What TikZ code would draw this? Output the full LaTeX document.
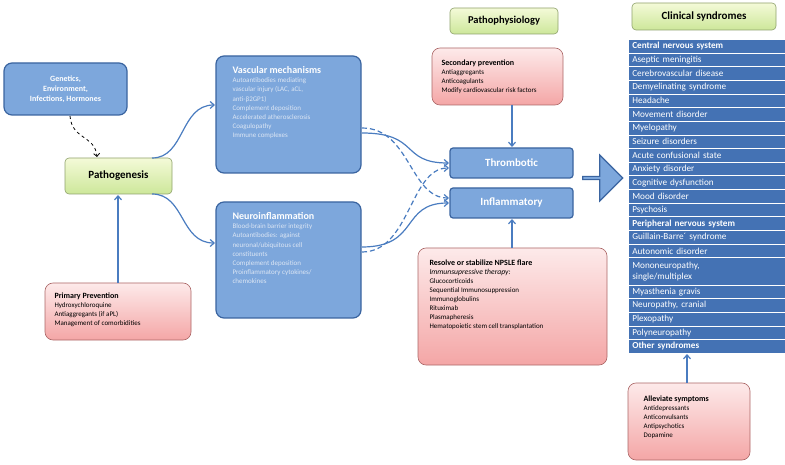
\documentclass[tikz,border=0pt]{standalone}
\usepackage{fontspec}
\setmainfont{Carlito}
\usetikzlibrary{shapes.arrows,arrows.meta,positioning}
\definecolor{bfill}{HTML}{7DA7DC}
\definecolor{bdraw}{HTML}{3A64A0}
\definecolor{rowc}{HTML}{4472B4}
\definecolor{lighttxt}{HTML}{DCE6F4}
\definecolor{gfillA}{HTML}{F4FAD8}
\definecolor{gfillB}{HTML}{CDE79A}
\definecolor{pfillA}{HTML}{FDEAEA}
\definecolor{pfillB}{HTML}{F4A6A6}
\definecolor{linec}{HTML}{4A7CC0}
\tikzset{
 bluebox/.style={draw=bdraw,line width=1.2pt,fill=bfill,rounded corners=8pt},
 greenbox/.style={draw=gfillB!70!black,line width=0.6pt,top color=gfillA,bottom color=gfillB,rounded corners=4pt},
 pinkbox/.style={draw=red!45!black!60,line width=0.6pt,top color=pfillA,bottom color=pfillB,rounded corners=8pt},
 conn/.style={draw=linec,line width=1.2pt,-{Straight Barb[length=4pt,width=7pt]}},
 dconn/.style={conn,dashed,dash pattern=on 5pt off 3pt},
 row/.style={fill=rowc,draw=white,line width=0.6pt,minimum width=157pt,text width=149pt,anchor=north west,inner sep=0pt,align=left,text=white,font=\fontsize{9.2}{10.8}\selectfont},
 ptxt/.style={anchor=north west,align=left,font=\fontsize{7}{9.2}\selectfont}
}
\begin{document}
\begin{tikzpicture}[x=1pt,y=-1pt]
\useasboundingbox (0,0) rectangle (785,465);
% boxes
\draw[bluebox] (4,63) rectangle (127,115);
\node[text=white,align=center,font=\fontsize{8}{10}\selectfont\bfseries] (gen) at (65.5,89) {Genetics,\\Environment,\\Infections, Hormones};
\coordinate (genb) at (70,116);
\draw[greenbox] (65,158) rectangle (172,194);
\node[font=\fontsize{11}{13}\selectfont\bfseries] (pg) at (118.5,176) {Pathogenesis};
\coordinate (pgtr) at (152,158); \coordinate (pgbr) at (152,194); \coordinate (pgt) at (97,157); \coordinate (pgb) at (118,195);
\draw[pinkbox] (45,283) rectangle (191,340);
\node[ptxt] (pp) at (51,289) {\textbf{\fontsize{8}{9}\selectfont Primary Prevention}\\Hydroxychloroquine\\Antiaggregants (if aPL)\\Management of comorbidities};
\coordinate (ppt) at (118,283);
% vascular
\draw[bluebox] (216,56) rectangle (361,173);
\node[ptxt,text=lighttxt] (vas) at (229,63) {\textcolor{white}{\fontsize{10}{12}\selectfont\bfseries Vascular mechanisms}\\Autoantibodies mediating\\vascular injury (LAC, aCL,\\anti-β2GP1)\\Complement deposition\\Accelerated atherosclerosis\\Coagulopathy\\Immune complexes};
\coordinate (vasl) at (215,105); \coordinate (vasr) at (362,133); \coordinate (vasr2) at (362,128);
\draw[bluebox] (216,202) rectangle (361,318);
\node[ptxt,text=lighttxt] (neu) at (229,209) {\textcolor{white}{\fontsize{10}{12}\selectfont\bfseries Neuroinflammation}\\Blood-brain barrier integrity\\Autoantibodies: against\\neuronal/ubiquitous cell\\constituents\\Complement deposition\\Proinflammatory cytokines/\\chemokines};
\coordinate (neul) at (215,243); \coordinate (neur) at (362,247); \coordinate (neur2) at (362,252);
% middle
\draw[greenbox] (450,8) rectangle (558,34);
\node[font=\fontsize{10.5}{12}\selectfont\bfseries] (pat) at (504,21) {Pathophysiology};
\draw[pinkbox] (432,48) rectangle (563,105);
\node[ptxt] (sec) at (438,56) {\textbf{\fontsize{8}{9}\selectfont Secondary prevention}\\Antiaggregants\\Anticoagulants\\Modify cardiovascular risk factors};
\coordinate (secb) at (512,105);
\draw[bluebox,rounded corners=3pt] (450,148) rectangle (573,178);
\node[text=white,font=\fontsize{11}{13}\selectfont\bfseries] (thr) at (511.5,163) {Thrombotic};
\draw[bluebox,rounded corners=3pt] (450,188) rectangle (573,218);
\node[text=white,font=\fontsize{11}{13}\selectfont\bfseries] (inf) at (511.5,203) {Inflammatory};
\coordinate (thrl) at (449,163); \coordinate (thrl2) at (449,168); \coordinate (thrt) at (512,147);
\coordinate (infl) at (449,203); \coordinate (infl2) at (449,198); \coordinate (infb) at (512,219);
\draw[pinkbox] (418,248) rectangle (607,365);
\node[ptxt,font=\fontsize{7}{9}\selectfont] (res) at (426,256) {\textbf{\fontsize{8}{9}\selectfont Resolve or stabilize NPSLE flare}\\\textit{\fontsize{7.6}{9}\selectfont Immunsupressive therapy:}\\Glucocorticoids\\Sequential Immunosuppression\\Immunoglobulins\\Rituximab\\Plasmapheresis\\Hematopoietic stem cell transplantation};
\coordinate (rest) at (512,248);
% big arrow
\node[single arrow,draw=bdraw,line width=1.2pt,fill=bfill,minimum height=40pt,minimum width=46pt,single arrow head extend=8pt,inner sep=0pt] (big) at (602,178) {};
% right column
\draw[greenbox] (632,3) rectangle (776,30);
\node[font=\fontsize{11}{13}\selectfont\bfseries] (cs) at (704,16.5) {Clinical syndromes};
\def\rh{13.65}
\foreach \t [count=\i from 0] in {\textbf{Central nervous system},Aseptic meningitis,Cerebrovascular disease,Demyelinating syndrome,Headache,Movement disorder,Myelopathy,Seizure disorders,Acute confusional state,Anxiety disorder,Cognitive dysfunction,Mood disorder,Psychosis,\textbf{Peripheral nervous system},Guillain-Barre´ syndrome,Autonomic disorder}
  {\node[row,minimum height=\rh pt] (r\i) at (628,39+\i*\rh) {\t};}
\node[row,minimum height=2*\rh pt] (r16) at (628,39+16*\rh) {Mononeuropathy,\\single/multiplex};
\foreach \t [count=\i from 18] in {Myasthenia gravis,{Neuropathy, cranial},Plexopathy,Polyneuropathy,\textbf{Other syndromes}}
  {\node[row,minimum height=\rh pt] (s\i) at (628,39+\i*\rh) {\t};}
\coordinate (tabb) at (687,354);
\draw[pinkbox] (628,383) rectangle (750,460);
\node[ptxt] (all) at (640,392) {\textbf{\fontsize{8}{9}\selectfont Alleviate symptoms}\\Antidepressants\\Anticonvulsants\\Antipsychotics\\Dopamine};
\coordinate (allt) at (687,383);
% connectors
\draw[black,line width=0.8pt,dashed,-{Straight Barb[length=3pt,width=6pt]}] (genb) .. controls (72,140) and (95,135) .. (pgt);
\draw[conn] (ppt) -- (pgb);
\draw[conn] (pgtr) .. controls (185,158) and (180,105) .. (vasl);
\draw[conn] (pgbr) .. controls (185,194) and (180,243) .. (neul);
\draw[conn] (vasr) .. controls (420,133) and (400,163) .. (thrl);
\draw[dconn] (vasr2) .. controls (410,128) and (410,198) .. (infl2);
\draw[conn] (neur) .. controls (420,247) and (400,203) .. (infl);
\draw[dconn] (neur2) .. controls (410,252) and (410,168) .. (thrl2);
\draw[conn] (secb) -- (thrt);
\draw[conn] (rest) -- (infb);
\draw[conn] (allt) -- (tabb);
\end{tikzpicture}
\end{document}
